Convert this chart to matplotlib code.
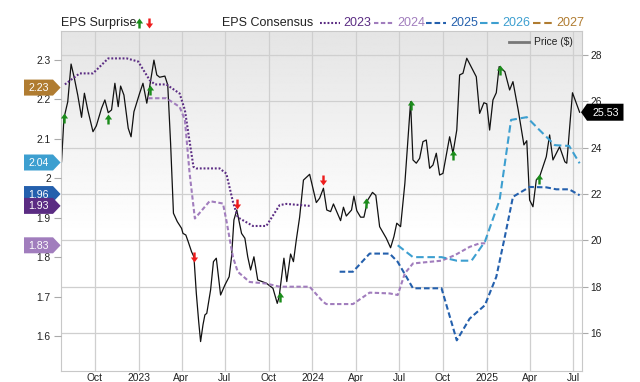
import numpy as np
import pandas as pd
import matplotlib
matplotlib.use('Agg')
import matplotlib.pyplot as plt
import matplotlib.dates as mdates
from matplotlib.patches import Polygon
from matplotlib.path import Path
from matplotlib.ticker import FuncFormatter

plt.rcParams['font.family'] = ['Liberation Sans', 'DejaVu Sans']

# --- price ($), right axis ---
price_dates = [
    '2022-07-23', '2022-07-28', '2022-08-05', '2022-08-12', '2022-08-19', '2022-08-26',
    '2022-09-03', '2022-09-09', '2022-09-16', '2022-09-27', '2022-10-04', '2022-10-15',
    '2022-10-22', '2022-10-29', '2022-11-05', '2022-11-12', '2022-11-19', '2022-11-24',
    '2022-12-01', '2022-12-10', '2022-12-16', '2022-12-22', '2023-01-03', '2023-01-10',
    '2023-01-18', '2023-01-24', '2023-02-02', '2023-02-08', '2023-02-14', '2023-02-25',
    '2023-03-03', '2023-03-09', '2023-03-15', '2023-03-23', '2023-04-01', '2023-04-04',
    '2023-04-10', '2023-04-15', '2023-04-22', '2023-04-27', '2023-05-02', '2023-05-07',
    '2023-05-11', '2023-05-16', '2023-05-20', '2023-05-24', '2023-06-01', '2023-06-07',
    '2023-06-13', '2023-06-22', '2023-07-01', '2023-07-10', '2023-07-15', '2023-07-20',
    '2023-07-26', '2023-08-05', '2023-08-12', '2023-08-18', '2023-08-24', '2023-08-31',
    '2023-09-08', '2023-09-26', '2023-10-10', '2023-10-19', '2023-10-23', '2023-11-02',
    '2023-11-08', '2023-11-16', '2023-11-22', '2023-11-28', '2023-12-05', '2023-12-13',
    '2023-12-26', '2024-01-09', '2024-01-16', '2024-01-24', '2024-01-31', '2024-02-08',
    '2024-02-14', '2024-02-29', '2024-03-06', '2024-03-12', '2024-03-23', '2024-03-28',
    '2024-04-03', '2024-04-11', '2024-04-18', '2024-04-26', '2024-05-06', '2024-05-13',
    '2024-05-21', '2024-06-04', '2024-06-13', '2024-06-20', '2024-06-26', '2024-07-04',
    '2024-07-13', '2024-07-25', '2024-07-30', '2024-08-06', '2024-08-13', '2024-08-20',
    '2024-08-27', '2024-09-03', '2024-09-10', '2024-09-17', '2024-09-24', '2024-10-01',
    '2024-10-15', '2024-10-22', '2024-10-30', '2024-11-05', '2024-11-12', '2024-11-20',
    '2024-12-10', '2024-12-17', '2024-12-26', '2025-01-01', '2025-01-07', '2025-01-14',
    '2025-01-21', '2025-01-27', '2025-02-08', '2025-02-18', '2025-02-25', '2025-03-08',
    '2025-03-15', '2025-03-20', '2025-03-26', '2025-04-01', '2025-04-08', '2025-04-15',
    '2025-04-22', '2025-05-06', '2025-05-13', '2025-05-20', '2025-06-03', '2025-06-14',
    '2025-06-18', '2025-06-30', '2025-07-08', '2025-07-15']
price_values = [
    23.39, 25.27, 25.98, 27.61, 26.99, 26.27,
    25.31, 26.35, 25.63, 24.69, 24.94, 25.70,
    26.06, 25.51, 25.63, 26.78, 25.77, 26.66,
    26.27, 24.84, 24.47, 25.55, 26.35, 26.78,
    25.92, 26.63, 27.78, 27.14, 27.04, 27.09,
    26.71, 24.19, 21.17, 20.81, 20.52, 20.30,
    20.23, 19.94, 19.51, 19.29, 17.72, 16.49,
    15.63, 16.35, 16.78, 16.85, 17.86, 19.08,
    19.23, 17.64, 18.07, 18.43, 19.29, 20.88,
    21.31, 20.30, 20.09, 19.29, 18.72, 19.29,
    18.29, 18.15, 17.93, 17.28, 17.57, 19.23,
    18.22, 19.41, 19.08, 20.02, 21.00, 22.60,
    22.85, 21.63, 21.82, 22.25, 21.31, 21.24,
    21.57, 20.85, 21.43, 21.05, 21.31, 21.91,
    21.28, 21.00, 21.00, 21.74, 22.07, 21.94,
    20.59, 20.09, 19.68, 20.16, 20.74, 20.59,
    22.46, 25.98, 23.47, 23.33, 23.54, 24.26,
    24.33, 23.11, 23.25, 23.76, 22.82, 22.89,
    24.47, 23.76, 24.76, 27.14, 27.21, 27.86,
    27.06, 25.48, 25.94, 25.89, 24.76, 26.06,
    26.37, 27.50, 27.28, 26.49, 26.85, 25.63,
    24.76, 24.12, 24.30, 21.74, 21.45, 22.61,
    22.75, 23.61, 24.55, 23.47, 24.04, 23.39,
    23.33, 26.37, 25.92, 25.53]
last_price = 25.53

# --- EPS consensus per fiscal year, left axis ---
eps_2023_dates = ['2022-07-30', '2022-08-30', '2022-09-27', '2022-10-29', '2022-12-07',
                  '2022-12-31', '2023-01-24', '2023-02-04', '2023-02-28', '2023-03-28',
                  '2023-04-08', '2023-04-26', '2023-05-02', '2023-06-20', '2023-07-04',
                  '2023-07-18', '2023-07-28', '2023-08-29', '2023-09-26', '2023-10-24',
                  '2023-11-07', '2023-12-26']
eps_2023 = [2.238, 2.266, 2.266, 2.304, 2.304, 2.296, 2.249, 2.238, 2.238, 2.215,
            2.173, 2.029, 2.025, 2.025, 2.012, 1.94, 1.901, 1.879, 1.879, 1.932,
            1.935, 1.93]

eps_2024_dates = ['2023-01-21', '2023-02-28', '2023-03-28', '2023-04-08', '2023-04-18',
                  '2023-04-29', '2023-05-30', '2023-06-27', '2023-07-04', '2023-07-18',
                  '2023-07-28', '2023-08-22', '2023-09-26', '2023-10-24', '2023-12-26',
                  '2024-01-23', '2024-01-30', '2024-03-26', '2024-04-30', '2024-06-11',
                  '2024-06-28', '2024-07-13', '2024-07-30', '2024-09-28', '2024-10-26',
                  '2024-11-26', '2024-12-17', '2024-12-31']
eps_2024 = [2.203, 2.203, 2.181, 2.148, 2.012, 1.898, 1.942, 1.936, 1.894, 1.80,
            1.763, 1.737, 1.733, 1.725, 1.725, 1.687, 1.681, 1.681, 1.71, 1.708,
            1.704, 1.759, 1.784, 1.791, 1.805, 1.826, 1.835, 1.835]

eps_2025_dates = ['2024-02-27', '2024-03-26', '2024-04-30', '2024-06-11', '2024-06-28',
                  '2024-07-30', '2024-09-28', '2024-10-30', '2024-11-26', '2024-12-28',
                  '2025-01-21', '2025-02-08', '2025-02-25', '2025-04-01', '2025-05-06',
                  '2025-05-27', '2025-06-23', '2025-07-15']
eps_2025 = [1.763, 1.763, 1.809, 1.809, 1.788, 1.721, 1.721, 1.589, 1.644, 1.678,
            1.75, 1.852, 1.953, 1.978, 1.977, 1.972, 1.972, 1.957]

eps_2026_dates = ['2024-06-28', '2024-07-30', '2024-09-28', '2024-10-30', '2024-11-30',
                  '2024-12-28', '2025-01-28', '2025-02-21', '2025-03-26', '2025-04-22',
                  '2025-05-24', '2025-06-23', '2025-07-15']
eps_2026 = [1.830, 1.80, 1.80, 1.791, 1.791, 1.839, 1.945, 2.148, 2.155, 2.122,
            2.084, 2.082, 2.038]

# latest consensus shown in the left tags
tag_years = ['2027', '2026', '2025', '2023', '2024']
tag_values = [2.23, 2.04, 1.96, 1.93, 1.83]

# EPS surprise markers (placed on the price line)
beat_dates = ['2022-07-28', '2022-10-29', '2023-01-25', '2023-10-24', '2024-04-23',
              '2024-07-25', '2024-10-22', '2025-01-28', '2025-04-20']
beat_prices = [25.27, 25.24, 26.49, 17.57, 21.63, 25.84, 23.68, 27.35, 22.64]
miss_dates = ['2023-04-27', '2023-07-26', '2024-01-24']
miss_prices = [19.29, 21.57, 22.60]

colors = {'2023': '#5b2c83', '2024': '#a17dbd', '2025': '#2460ad',
          '2026': '#3d9fd0', '2027': '#b07c31'}
styles = {'2023': (0, (0.9, 0.9)), '2024': (0, (2.1, 1.2)), '2025': (0, (2.7, 1.4)),
          '2026': (0, (3.6, 1.8)), '2027': (0, (3.6, 1.8))}
green = '#1b8c1b'
red = '#ee1c1c'

# arrow marker shapes
up_arrow = Path([(-1.2, -5), (1.2, -5), (1.2, 0), (3.6, 0), (0, 5), (-3.6, 0), (-1.2, 0), (-1.2, -5)],
                [Path.MOVETO] + [Path.LINETO] * 6 + [Path.CLOSEPOLY])
down_arrow = Path([(x, -y) for x, y in up_arrow.vertices], up_arrow.codes)

W, H = 640, 382
fig = plt.figure(figsize=(W / 100, H / 100), dpi=100)
L, R, T, B = 60.6, 582, 31, 370.7
pos = [L / W, 1 - B / H, (R - L) / W, (B - T) / H]

# background gradient
bg = fig.add_axes(pos, zorder=0)
t = np.linspace(0, 1, 300)
g = np.clip(0.895 + 0.105 * t / 0.6, 0, 1)
bg.imshow(np.repeat(g[:, None], 2, axis=1), cmap='gray', vmin=0, vmax=1,
          aspect='auto', extent=(0, 1, 0, 1))
bg.axis('off')

ax = fig.add_axes(pos, zorder=1)
ax.patch.set_visible(False)
ax2 = ax.twinx()
ax2.set_zorder(2)
ax2.patch.set_visible(False)
ax.yaxis.tick_right()
ax2.yaxis.tick_left()

ax.plot(pd.to_datetime(price_dates), price_values, color='#111111', lw=0.9)

for yr, d, v in [('2023', eps_2023_dates, eps_2023), ('2024', eps_2024_dates, eps_2024),
                 ('2025', eps_2025_dates, eps_2025), ('2026', eps_2026_dates, eps_2026)]:
    ax2.plot(pd.to_datetime(d), v, color=colors[yr], lw=1.5, linestyle=styles[yr])

ax2.plot(pd.to_datetime(beat_dates), beat_prices, ls='none', marker=up_arrow, ms=7.2,
         color=green, mec='none', transform=ax.transData)
ax2.plot(pd.to_datetime(miss_dates), miss_prices, ls='none', marker=down_arrow, ms=7.2,
         color=red, mec='none', transform=ax.transData)

x0, x1 = pd.Timestamp('2022-07-21'), pd.Timestamp('2025-07-20')
ax.set_xlim(x0, x1)
ax.set_ylim(14.373, 29.036)
ax2.set_ylim(1.512, 2.3735)

ax.set_yticks([16, 18, 20, 22, 24, 26, 28])
ax2.set_yticks([1.6, 1.7, 1.8, 1.9, 2.0, 2.1, 2.2, 2.3])
ax2.yaxis.set_major_formatter(FuncFormatter(lambda v, p: f'{v:g}'))
ax.xaxis.set_major_locator(mdates.MonthLocator(bymonth=[1, 4, 7, 10]))


def fmt_date(x, p):
    d = mdates.num2date(x)
    return d.strftime('%Y') if d.month == 1 else d.strftime('%b')


ax.xaxis.set_major_formatter(FuncFormatter(fmt_date))

ax.grid(True, color='#cfcfcf', lw=0.9)
ax.set_axisbelow(True)
ax.tick_params(axis='x', length=0, pad=1.5, labelsize=7.4, labelcolor='#222222')
ax.tick_params(axis='y', length=4.3, pad=1.5, labelsize=7.4, color='#aaaaaa',
               labelcolor='#222222')
ax2.tick_params(axis='y', length=5, pad=2, labelsize=7.4, color='#aaaaaa',
                labelcolor='#222222')
for s in ax.spines.values():
    s.set_color('#c8c8c8')
for s in ax2.spines.values():
    s.set_visible(False)

# overlay in pixel coordinates for tags and legend
ov = fig.add_axes([0, 0, 1, 1], zorder=5)
ov.set_xlim(0, W)
ov.set_ylim(H, 0)
ov.axis('off')


def py(axis, value):
    return H - axis.transData.transform((mdates.date2num(x1), value))[1]


for yr, v in zip(tag_years, tag_values):
    y = py(ax2, v)
    ov.add_patch(Polygon([(24, y - 8), (53, y - 8), (L, y), (53, y + 8), (24, y + 8)],
                         closed=True, fc=colors[yr], ec='none'))
    ov.text(38.5, y + 0.5, f'{v:.2f}', color='white', fontsize=7.6, ha='center', va='center')

y = py(ax, last_price)
ov.add_patch(Polygon([(R - 1, y), (587, y - 8.5), (623.5, y - 8.5), (623.5, y + 8.5), (587, y + 8.5)],
                     closed=True, fc='black', ec='none'))
ov.text(605.5, y + 0.5, f'{last_price:.2f}', color='white', fontsize=7.7, ha='center', va='center')

# legend
ly = 23
ov.text(60.7, ly, 'EPS Surprise', fontsize=9, color='#222222', va='center')
ov.plot([139], [ly], marker=up_arrow, ms=7.2, color=green, mec='none')
ov.plot([149], [ly], marker=down_arrow, ms=7.2, color=red, mec='none')
ov.text(222, ly, 'EPS Consensus', fontsize=9, color='#222222', va='center')
for yr, xs, xt in [('2023', 320, 343), ('2024', 374, 397), ('2025', 426, 450),
                   ('2026', 480, 502), ('2027', 533, 556)]:
    ov.plot([xs, xs + 20], [ly, ly], color=colors[yr], lw=1.5, linestyle=styles[yr])
    ov.text(xt, ly, yr, fontsize=9, color=colors[yr], va='center')

ov.plot([509, 529], [42, 42], color='#777777', lw=2)
ov.text(534, 42, 'Price ($)', fontsize=7.4, color='#222222', va='center')

fig.savefig('out.png', dpi=100)
